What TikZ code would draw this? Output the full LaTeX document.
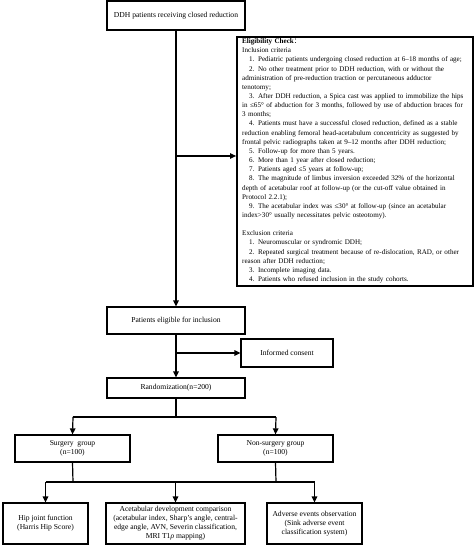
\documentclass[tikz,border=0pt]{standalone}
\usepackage{fontspec}
\setmainfont{Liberation Serif}
\newfontfamily\cjk{Noto Sans CJK SC}
\usetikzlibrary{arrows.meta}
\begin{document}
\begin{tikzpicture}[x=1bp,y=-1bp,
  box/.style={draw, line width=1.2bp, align=center, inner sep=0pt,
    font=\fontsize{7.6bp}{9bp}\selectfont},
  arr/.style={-{Triangle[length=6bp,width=5.5bp]}, line width=1.2bp},
  ln/.style={line width=1.2bp}]
\useasboundingbox (0,0) rectangle (474,545);
\fill[white] (0,0) rectangle (474,545);

\node[box, minimum width=138bp, minimum height=29bp] (ddh) at (176,15.5) {DDH patients receiving closed reduction};

\node[draw, line width=1.8bp, minimum width=236bp, minimum height=249bp, inner sep=0pt] (elig) at (355,161.5) {};
\node[anchor=north west, inner sep=0pt, align=left, text width=232bp,
  font=\fontsize{7.1bp}{9.15bp}\selectfont] (eligtext) at (242,38.5) {%
\textbf{Eligibility Check}{\cjk ：}\\
Inclusion criteria\\
\hspace*{7bp}1. Pediatric patients undergoing closed reduction at 6–18 months of age;\\
\hspace*{7bp}2. No other treatment prior to DDH reduction, with or without the\\
administration of pre-reduction traction or percutaneous adductor\\
tenotomy;\\
\hspace*{7bp}3. After DDH reduction, a Spica cast was applied to immobilize the hips\\
in ≤65° of abduction for 3 months, followed by use of abduction braces for\\
3 months;\\
\hspace*{7bp}4. Patients must have a successful closed reduction, defined as a stable\\
reduction enabling femoral head-acetabulum concentricity as suggested by\\
frontal pelvic radiographs taken at 9–12 months after DDH reduction;\\
\hspace*{7bp}5. Follow-up for more than 5 years.\\
\hspace*{7bp}6. More than 1 year after closed reduction;\\
\hspace*{7bp}7. Patients aged ≤5 years at follow-up;\\
\hspace*{7bp}8. The magnitude of limbus inversion exceeded 32\% of the horizontal\\
depth of acetabular roof at follow-up (or the cut-off value obtained in\\
Protocol 2.2.1);\\
\hspace*{7bp}9. The acetabular index was ≤30° at follow-up (since an acetabular\\
index>30° usually necessitates pelvic osteotomy).\\
\mbox{}\\
Exclusion criteria\\
\hspace*{7bp}1. Neuromuscular or syndromic DDH;\\
\hspace*{7bp}2. Repeated surgical treatment because of re-dislocation, RAD, or other\\
reason after DDH reduction;\\
\hspace*{7bp}3. Incomplete imaging data.\\
\hspace*{7bp}4. Patients who refused inclusion in the study cohorts.};

\node[box, minimum width=138bp, minimum height=27bp] (elg) at (176,320.5) {Patients eligible for inclusion};
\node[box, minimum width=92bp, minimum height=28bp] (cons) at (287,353) {Informed consent};
\node[box, minimum width=138bp, minimum height=20bp] (rand) at (176,388) {Randomization(n=200)};
\node[box, minimum width=115bp, minimum height=27bp] (surg) at (72.5,448.5) {Surgery~ group\\(n=100)};
\node[box, minimum width=115bp, minimum height=27bp] (nons) at (275.5,448.5) {Non-surgery group\\(n=100)};
\node[box, minimum width=85bp, minimum height=41bp] (hip) at (45.5,523.5) {Hip joint function\\(Harris Hip Score)};
\node[box, minimum width=139bp, minimum height=41bp] (acet) at (175.5,523.5) {Acetabular development comparison\\(acetabular index, Sharp's angle, central-\\edge angle, AVN, Severin classification,\\MRI T1\textit{ρ} mapping)};
\node[box, minimum width=95bp, minimum height=41bp] (adv) at (314.5,523.5) {Adverse events observation\\(Sink adverse event\\classification system)};

\coordinate (c1) at (176,156);
\coordinate (c2) at (176,353);
\coordinate (c3) at (176,417);
\coordinate (c4) at (73,417);
\coordinate (c5) at (276,417);
\coordinate (c6) at (73,482);
\coordinate (c7) at (276,482);
\coordinate (c8) at (45.5,482);
\coordinate (c9) at (175.5,482);
\coordinate (c10) at (314.5,482);

\draw[arr] (ddh.south) -- (elg.north);
\draw[arr] (c1) -- (c1 -| elig.west);
\draw[arr] (elg.south) -- (rand.north);
\draw[arr] (c2) -- (cons.west);
\draw[ln] (rand.south) -- (c3);
\draw[ln] (c4) -- (c5);
\draw[arr] (c4) -- (surg.north);
\draw[arr] (c5) -- (nons.north);
\draw[ln] (surg.south) -- (c6);
\draw[ln] (nons.south) -- (c7);
\draw[ln] (c8) -- (c10);
\draw[arr] (c8) -- (hip.north);
\draw[arr] (c9) -- (acet.north);
\draw[arr] (c10) -- (adv.north);
\end{tikzpicture}
\end{document}
